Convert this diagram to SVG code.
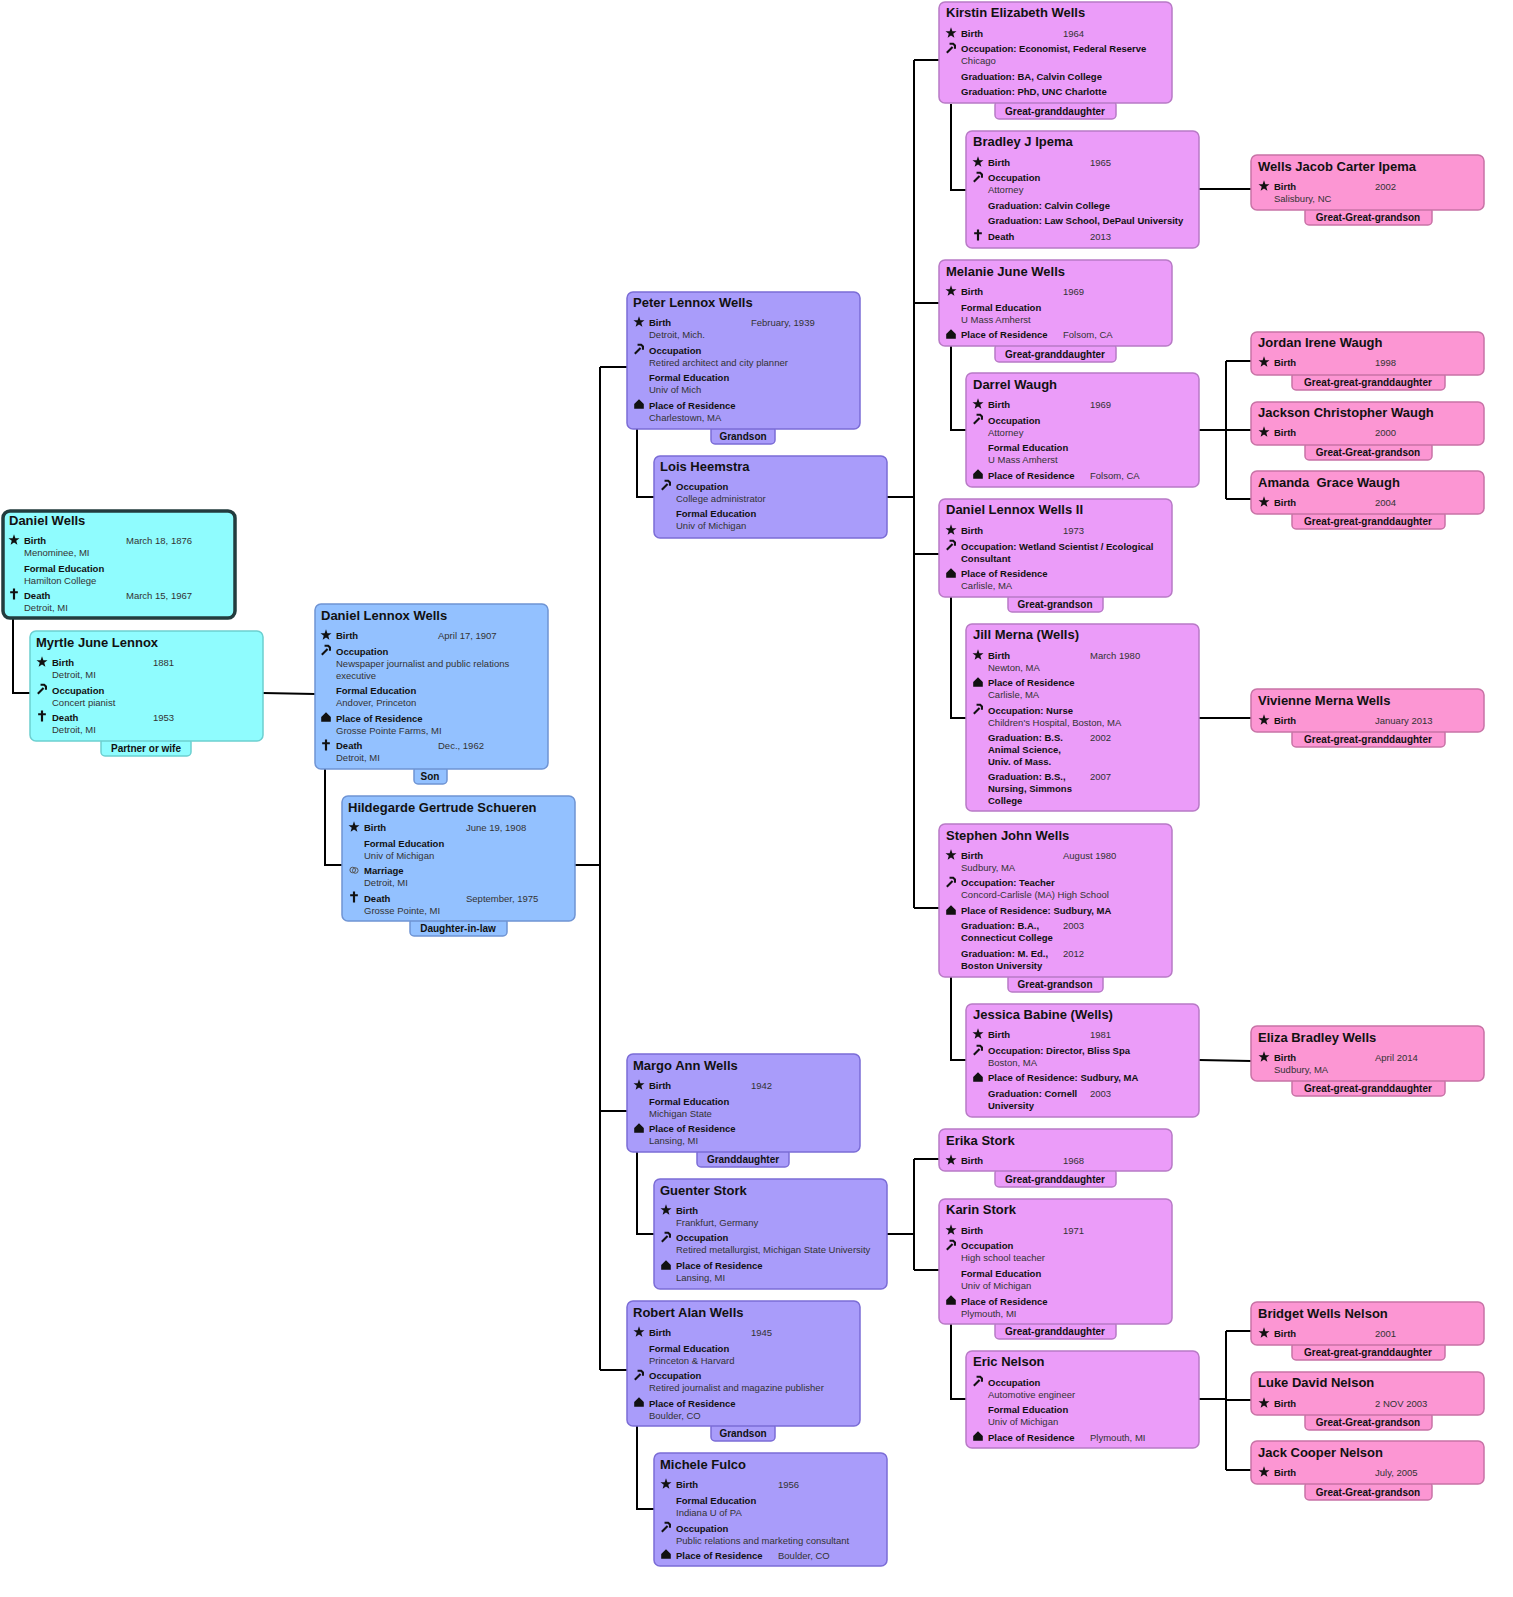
<svg xmlns="http://www.w3.org/2000/svg" xmlns:xlink="http://www.w3.org/1999/xlink" width="1513" height="1597" viewBox="0 0 1513 1597">
<style>
text{font-family:"Liberation Sans",Arial,sans-serif;fill:#111}
.t{font-size:13px;font-weight:bold}
.l{font-size:9.5px;font-weight:bold}
.v{font-size:9.5px;fill:#333}
.g{font-size:10px;font-weight:bold;text-anchor:middle}
.c{fill:#8ffcfe;stroke:#6ccfd0;stroke-width:1.5}
.b{fill:#93c1ff;stroke:#6f94d4;stroke-width:1.5}
.p{fill:#a99cfa;stroke:#7b6cd6;stroke-width:1.5}
.m{fill:#eb9cf9;stroke:#b87ac6;stroke-width:1.5}
.k{fill:#fc96d3;stroke:#c873a6;stroke-width:1.5}
#links path{fill:none;stroke:#000;stroke-width:2}
</style>
<defs>
<polygon id="star" transform="scale(1.25)" points="0,-4.6 1.1,-1.5 4.4,-1.4 1.8,0.6 2.7,3.8 0,1.9 -2.7,3.8 -1.8,0.6 -4.4,-1.4 -1.1,-1.5" fill="#111"/>
<path id="cross" transform="scale(1.2)" d="M-0.9,-4.5h1.8v2.2h2.3v1.7h-2.3v5.1h-1.8v-5.1h-2.3v-1.7h2.3z" fill="#111"/>
<path id="ham" transform="scale(1.2)" d="M-3.5,4 L1.3,-0.8 M-1.2,-3.6 L1.8,-3.6 L3.3,-2.1 L3.3,0.6" fill="none" stroke="#111" stroke-width="1.7"/>
<path id="house" transform="scale(1.2)" d="M-4,0 L0,-4 L4,0 V4 H-4 Z M-1,4 V1.5 H1 V4" fill="#111"/>
<g id="ring" fill="none" stroke="#555" stroke-width="1"><circle cx="-1.3" cy="0" r="2.8"/><circle cx="1.3" cy="0.5" r="2.8"/></g>
</defs>

<g id="links">
<path d="M13,618V693H30"/>
<path d="M263,693L315,694"/>
<path d="M325,769V865H342"/>
<path d="M575,865H600M600,367V1370M600,367H627M600,1111H627M600,1370H627"/>
<path d="M637,429V497H654"/>
<path d="M887,497H914M914,60V908M914,60H939M914,303H939M914,554H939M914,908H939"/>
<path d="M951,104V190H966"/>
<path d="M1199,189H1251"/>
<path d="M951,346V430H966"/>
<path d="M1199,430H1226M1226,361V499M1226,361H1251M1226,430H1251M1226,499H1251"/>
<path d="M951,597V718H966"/>
<path d="M1199,718H1251"/>
<path d="M951,977V1060H966"/>
<path d="M1199,1060L1251,1061"/>
<path d="M637,1152V1234H654"/>
<path d="M887,1234H914M914,1159V1270M914,1159H939M914,1270H939"/>
<path d="M951,1324V1399H966"/>
<path d="M1199,1399H1226M1226,1331V1470M1226,1331H1251M1226,1400H1251M1226,1470H1251"/>
<path d="M637,1426V1509H654"/>
</g>

<g id="n1">
<rect x="3" y="511" width="232" height="107" rx="7" fill="#8ffcfe" stroke="#233c3e" stroke-width="3.5"/>
<text class="t" x="9" y="525">Daniel Wells</text>
<use href="#star" x="14" y="540"/><text class="l" x="24" y="544">Birth</text><text class="v" x="126" y="544">March 18, 1876</text>
<text class="v" x="24" y="556">Menominee, MI</text>
<text class="l" x="24" y="572">Formal Education</text><text class="v" x="24" y="584">Hamilton College</text>
<use href="#cross" x="14" y="594"/><text class="l" x="24" y="599">Death</text><text class="v" x="126" y="599">March 15, 1967</text>
<text class="v" x="24" y="611">Detroit, MI</text>
</g>

<g id="n2">
<rect class="c" x="101" y="738" width="90" height="18" rx="4"/><text class="g" x="146" y="752">Partner or wife</text>
<rect class="c" x="30" y="631" width="233" height="110" rx="6"/>
<text class="t" x="36" y="647">Myrtle June Lennox</text>
<use href="#star" x="42" y="662"/><text class="l" x="52" y="666">Birth</text><text class="v" x="153" y="666">1881</text>
<text class="v" x="52" y="678">Detroit, MI</text>
<use href="#ham" x="42" y="689"/><text class="l" x="52" y="694">Occupation</text><text class="v" x="52" y="706">Concert pianist</text>
<use href="#cross" x="42" y="716"/><text class="l" x="52" y="721">Death</text><text class="v" x="153" y="721">1953</text>
<text class="v" x="52" y="733">Detroit, MI</text>
</g>

<g id="n3">
<rect class="b" x="414" y="766" width="33" height="18" rx="4"/><text class="g" x="430" y="780">Son</text>
<rect class="b" x="315" y="604" width="233" height="165" rx="6"/>
<text class="t" x="321" y="620">Daniel Lennox Wells</text>
<use href="#star" x="326" y="635"/><text class="l" x="336" y="639">Birth</text><text class="v" x="438" y="639">April 17, 1907</text>
<use href="#ham" x="326" y="650"/><text class="l" x="336" y="655">Occupation</text>
<text class="v" x="336" y="667">Newspaper journalist and public relations</text><text class="v" x="336" y="679">executive</text>
<text class="l" x="336" y="694">Formal Education</text><text class="v" x="336" y="706">Andover, Princeton</text>
<use href="#house" x="326" y="717"/><text class="l" x="336" y="722">Place of Residence</text><text class="v" x="336" y="734">Grosse Pointe Farms, MI</text>
<use href="#cross" x="326" y="745"/><text class="l" x="336" y="749">Death</text><text class="v" x="438" y="749">Dec., 1962</text>
<text class="v" x="336" y="761">Detroit, MI</text>
</g>

<g id="n4">
<rect class="b" x="410" y="918" width="97" height="18" rx="4"/><text class="g" x="458" y="932">Daughter-in-law</text>
<rect class="b" x="342" y="796" width="233" height="125" rx="6"/>
<text class="t" x="348" y="812">Hildegarde Gertrude Schueren</text>
<use href="#star" x="354" y="827"/><text class="l" x="364" y="831">Birth</text><text class="v" x="466" y="831">June 19, 1908</text>
<text class="l" x="364" y="847">Formal Education</text><text class="v" x="364" y="859">Univ of Michigan</text>
<use href="#ring" x="354" y="870"/><text class="l" x="364" y="874">Marriage</text><text class="v" x="364" y="886">Detroit, MI</text>
<use href="#cross" x="354" y="897"/><text class="l" x="364" y="902">Death</text><text class="v" x="466" y="902">September, 1975</text>
<text class="v" x="364" y="914">Grosse Pointe, MI</text>
</g>

<g id="n5">
<rect class="p" x="711" y="426" width="64" height="18" rx="4"/><text class="g" x="743" y="440">Grandson</text>
<rect class="p" x="627" y="292" width="233" height="137" rx="6"/>
<text class="t" x="633" y="307">Peter Lennox Wells</text>
<use href="#star" x="639" y="322"/><text class="l" x="649" y="326">Birth</text><text class="v" x="751" y="326">February, 1939</text>
<text class="v" x="649" y="338">Detroit, Mich.</text>
<use href="#ham" x="639" y="349"/><text class="l" x="649" y="354">Occupation</text><text class="v" x="649" y="366">Retired architect and city planner</text>
<text class="l" x="649" y="381">Formal Education</text><text class="v" x="649" y="393">Univ of Mich</text>
<use href="#house" x="639" y="404"/><text class="l" x="649" y="409">Place of Residence</text><text class="v" x="649" y="421">Charlestown, MA</text>
</g>

<g id="n6">
<rect class="p" x="654" y="456" width="233" height="82" rx="6"/>
<text class="t" x="660" y="471">Lois Heemstra</text>
<use href="#ham" x="666" y="485"/><text class="l" x="676" y="490">Occupation</text><text class="v" x="676" y="502">College administrator</text>
<text class="l" x="676" y="517">Formal Education</text><text class="v" x="676" y="529">Univ of Michigan</text>
</g>

<g id="n7">
<rect class="p" x="697" y="1149" width="92" height="18" rx="4"/><text class="g" x="743" y="1163">Granddaughter</text>
<rect class="p" x="627" y="1054" width="233" height="98" rx="6"/>
<text class="t" x="633" y="1070">Margo Ann Wells</text>
<use href="#star" x="639" y="1085"/><text class="l" x="649" y="1089">Birth</text><text class="v" x="751" y="1089">1942</text>
<text class="l" x="649" y="1105">Formal Education</text><text class="v" x="649" y="1117">Michigan State</text>
<use href="#house" x="639" y="1128"/><text class="l" x="649" y="1132">Place of Residence</text><text class="v" x="649" y="1144">Lansing, MI</text>
</g>

<g id="n8">
<rect class="p" x="654" y="1179" width="233" height="110" rx="6"/>
<text class="t" x="660" y="1195">Guenter Stork</text>
<use href="#star" x="666" y="1210"/><text class="l" x="676" y="1214">Birth</text><text class="v" x="676" y="1226">Frankfurt, Germany</text>
<use href="#ham" x="666" y="1237"/><text class="l" x="676" y="1241">Occupation</text><text class="v" x="676" y="1253">Retired metallurgist, Michigan State University</text>
<use href="#house" x="666" y="1265"/><text class="l" x="676" y="1269">Place of Residence</text><text class="v" x="676" y="1281">Lansing, MI</text>
</g>

<g id="n9">
<rect class="p" x="711" y="1423" width="64" height="18" rx="4"/><text class="g" x="743" y="1437">Grandson</text>
<rect class="p" x="627" y="1301" width="233" height="125" rx="6"/>
<text class="t" x="633" y="1317">Robert Alan Wells</text>
<use href="#star" x="639" y="1332"/><text class="l" x="649" y="1336">Birth</text><text class="v" x="751" y="1336">1945</text>
<text class="l" x="649" y="1352">Formal Education</text><text class="v" x="649" y="1364">Princeton &amp; Harvard</text>
<use href="#ham" x="639" y="1375"/><text class="l" x="649" y="1379">Occupation</text><text class="v" x="649" y="1391">Retired journalist and magazine publisher</text>
<use href="#house" x="639" y="1402"/><text class="l" x="649" y="1407">Place of Residence</text><text class="v" x="649" y="1419">Boulder, CO</text>
</g>

<g id="n10">
<rect class="p" x="654" y="1453" width="233" height="113" rx="6"/>
<text class="t" x="660" y="1469">Michele Fulco</text>
<use href="#star" x="666" y="1484"/><text class="l" x="676" y="1488">Birth</text><text class="v" x="778" y="1488">1956</text>
<text class="l" x="676" y="1504">Formal Education</text><text class="v" x="676" y="1516">Indiana U of PA</text>
<use href="#ham" x="666" y="1527"/><text class="l" x="676" y="1532">Occupation</text><text class="v" x="676" y="1544">Public relations and marketing consultant</text>
<use href="#house" x="666" y="1554"/><text class="l" x="676" y="1559">Place of Residence</text><text class="v" x="778" y="1559">Boulder, CO</text>
</g>

<g id="n11">
<rect class="m" x="995" y="101" width="121" height="18" rx="4"/><text class="g" x="1055" y="115">Great-granddaughter</text>
<rect class="m" x="939" y="2" width="233" height="101" rx="6"/>
<text class="t" x="946" y="17">Kirstin Elizabeth Wells</text>
<use href="#star" x="951" y="33"/><text class="l" x="961" y="37">Birth</text><text class="v" x="1063" y="37">1964</text>
<use href="#ham" x="951" y="48"/><text class="l" x="961" y="52">Occupation: Economist, Federal Reserve</text><text class="v" x="961" y="64">Chicago</text>
<text class="l" x="961" y="80">Graduation: BA, Calvin College</text>
<text class="l" x="961" y="95">Graduation: PhD, UNC Charlotte</text>
</g>

<g id="n12">
<rect class="m" x="966" y="131" width="233" height="117" rx="6"/>
<text class="t" x="973" y="146">Bradley J Ipema</text>
<use href="#star" x="978" y="162"/><text class="l" x="988" y="166">Birth</text><text class="v" x="1090" y="166">1965</text>
<use href="#ham" x="978" y="177"/><text class="l" x="988" y="181">Occupation</text><text class="v" x="988" y="193">Attorney</text>
<text class="l" x="988" y="209">Graduation: Calvin College</text>
<text class="l" x="988" y="224">Graduation: Law School, DePaul University</text>
<use href="#cross" x="978" y="235"/><text class="l" x="988" y="240">Death</text><text class="v" x="1090" y="240">2013</text>
</g>

<g id="n13">
<rect class="m" x="995" y="344" width="121" height="18" rx="4"/><text class="g" x="1055" y="358">Great-granddaughter</text>
<rect class="m" x="939" y="260" width="233" height="86" rx="6"/>
<text class="t" x="946" y="276">Melanie June Wells</text>
<use href="#star" x="951" y="291"/><text class="l" x="961" y="295">Birth</text><text class="v" x="1063" y="295">1969</text>
<text class="l" x="961" y="311">Formal Education</text><text class="v" x="961" y="323">U Mass Amherst</text>
<use href="#house" x="951" y="334"/><text class="l" x="961" y="338">Place of Residence</text><text class="v" x="1063" y="338">Folsom, CA</text>
</g>

<g id="n14">
<rect class="m" x="966" y="373" width="233" height="114" rx="6"/>
<text class="t" x="973" y="389">Darrel Waugh</text>
<use href="#star" x="978" y="404"/><text class="l" x="988" y="408">Birth</text><text class="v" x="1090" y="408">1969</text>
<use href="#ham" x="978" y="419"/><text class="l" x="988" y="424">Occupation</text><text class="v" x="988" y="436">Attorney</text>
<text class="l" x="988" y="451">Formal Education</text><text class="v" x="988" y="463">U Mass Amherst</text>
<use href="#house" x="978" y="474"/><text class="l" x="988" y="479">Place of Residence</text><text class="v" x="1090" y="479">Folsom, CA</text>
</g>

<g id="n15">
<rect class="m" x="1008" y="594" width="95" height="18" rx="4"/><text class="g" x="1055" y="608">Great-grandson</text>
<rect class="m" x="939" y="499" width="233" height="98" rx="6"/>
<text class="t" x="946" y="514">Daniel Lennox Wells II</text>
<use href="#star" x="951" y="530"/><text class="l" x="961" y="534">Birth</text><text class="v" x="1063" y="534">1973</text>
<use href="#ham" x="951" y="545"/><text class="l" x="961" y="550">Occupation: Wetland Scientist / Ecological</text><text class="l" x="961" y="562">Consultant</text>
<use href="#house" x="951" y="573"/><text class="l" x="961" y="577">Place of Residence</text><text class="v" x="961" y="589">Carlisle, MA</text>
</g>

<g id="n16">
<rect class="m" x="966" y="624" width="233" height="187" rx="6"/>
<text class="t" x="973" y="639">Jill Merna (Wells)</text>
<use href="#star" x="978" y="655"/><text class="l" x="988" y="659">Birth</text><text class="v" x="1090" y="659">March 1980</text>
<text class="v" x="988" y="671">Newton, MA</text>
<use href="#house" x="978" y="682"/><text class="l" x="988" y="686">Place of Residence</text><text class="v" x="988" y="698">Carlisle, MA</text>
<use href="#ham" x="978" y="709"/><text class="l" x="988" y="714">Occupation: Nurse</text><text class="v" x="988" y="726">Children's Hospital, Boston, MA</text>
<text class="l" x="988" y="741">Graduation: B.S.</text><text class="v" x="1090" y="741">2002</text>
<text class="l" x="988" y="753">Animal Science,</text><text class="l" x="988" y="765">Univ. of Mass.</text>
<text class="l" x="988" y="780">Graduation: B.S.,</text><text class="v" x="1090" y="780">2007</text>
<text class="l" x="988" y="792">Nursing, Simmons</text><text class="l" x="988" y="804">College</text>
</g>

<g id="n17">
<rect class="m" x="1008" y="974" width="95" height="18" rx="4"/><text class="g" x="1055" y="988">Great-grandson</text>
<rect class="m" x="939" y="824" width="233" height="153" rx="6"/>
<text class="t" x="946" y="840">Stephen John Wells</text>
<use href="#star" x="951" y="855"/><text class="l" x="961" y="859">Birth</text><text class="v" x="1063" y="859">August 1980</text>
<text class="v" x="961" y="871">Sudbury, MA</text>
<use href="#ham" x="951" y="882"/><text class="l" x="961" y="886">Occupation: Teacher</text><text class="v" x="961" y="898">Concord-Carlisle (MA) High School</text>
<use href="#house" x="951" y="910"/><text class="l" x="961" y="914">Place of Residence: Sudbury, MA</text>
<text class="l" x="961" y="929">Graduation: B.A.,</text><text class="v" x="1063" y="929">2003</text>
<text class="l" x="961" y="941">Connecticut College</text>
<text class="l" x="961" y="957">Graduation: M. Ed.,</text><text class="v" x="1063" y="957">2012</text>
<text class="l" x="961" y="969">Boston University</text>
</g>

<g id="n18">
<rect class="m" x="966" y="1004" width="233" height="113" rx="6"/>
<text class="t" x="973" y="1019">Jessica Babine (Wells)</text>
<use href="#star" x="978" y="1034"/><text class="l" x="988" y="1038">Birth</text><text class="v" x="1090" y="1038">1981</text>
<use href="#ham" x="978" y="1050"/><text class="l" x="988" y="1054">Occupation: Director, Bliss Spa</text><text class="v" x="988" y="1066">Boston, MA</text>
<use href="#house" x="978" y="1077"/><text class="l" x="988" y="1081">Place of Residence: Sudbury, MA</text>
<text class="l" x="988" y="1097">Graduation: Cornell</text><text class="v" x="1090" y="1097">2003</text>
<text class="l" x="988" y="1109">University</text>
</g>

<g id="n19">
<rect class="m" x="995" y="1169" width="121" height="18" rx="4"/><text class="g" x="1055" y="1183">Great-granddaughter</text>
<rect class="m" x="939" y="1129" width="233" height="42" rx="6"/>
<text class="t" x="946" y="1145">Erika Stork</text>
<use href="#star" x="951" y="1160"/><text class="l" x="961" y="1164">Birth</text><text class="v" x="1063" y="1164">1968</text>
</g>

<g id="n20">
<rect class="m" x="995" y="1321" width="121" height="18" rx="4"/><text class="g" x="1055" y="1335">Great-granddaughter</text>
<rect class="m" x="939" y="1199" width="233" height="125" rx="6"/>
<text class="t" x="946" y="1214">Karin Stork</text>
<use href="#star" x="951" y="1230"/><text class="l" x="961" y="1234">Birth</text><text class="v" x="1063" y="1234">1971</text>
<use href="#ham" x="951" y="1245"/><text class="l" x="961" y="1249">Occupation</text><text class="v" x="961" y="1261">High school teacher</text>
<text class="l" x="961" y="1277">Formal Education</text><text class="v" x="961" y="1289">Univ of Michigan</text>
<use href="#house" x="951" y="1300"/><text class="l" x="961" y="1305">Place of Residence</text><text class="v" x="961" y="1317">Plymouth, MI</text>
</g>

<g id="n21">
<rect class="m" x="966" y="1351" width="233" height="97" rx="6"/>
<text class="t" x="973" y="1366">Eric Nelson</text>
<use href="#ham" x="978" y="1381"/><text class="l" x="988" y="1386">Occupation</text><text class="v" x="988" y="1398">Automotive engineer</text>
<text class="l" x="988" y="1413">Formal Education</text><text class="v" x="988" y="1425">Univ of Michigan</text>
<use href="#house" x="978" y="1436"/><text class="l" x="988" y="1441">Place of Residence</text><text class="v" x="1090" y="1441">Plymouth, MI</text>
</g>

<g id="n22">
<rect class="k" x="1305" y="207" width="127" height="18" rx="4"/><text class="g" x="1368" y="221">Great-Great-grandson</text>
<rect class="k" x="1251" y="155" width="233" height="55" rx="6"/>
<text class="t" x="1258" y="171">Wells Jacob Carter Ipema</text>
<use href="#star" x="1264" y="186"/><text class="l" x="1274" y="190">Birth</text><text class="v" x="1375" y="190">2002</text>
<text class="v" x="1274" y="202">Salisbury, NC</text>
</g>

<g id="n23">
<rect class="k" x="1292" y="372" width="153" height="18" rx="4"/><text class="g" x="1368" y="386">Great-great-granddaughter</text>
<rect class="k" x="1251" y="332" width="233" height="43" rx="6"/>
<text class="t" x="1258" y="347">Jordan Irene Waugh</text>
<use href="#star" x="1264" y="362"/><text class="l" x="1274" y="366">Birth</text><text class="v" x="1375" y="366">1998</text>
</g>

<g id="n24">
<rect class="k" x="1305" y="442" width="127" height="18" rx="4"/><text class="g" x="1368" y="456">Great-Great-grandson</text>
<rect class="k" x="1251" y="402" width="233" height="43" rx="6"/>
<text class="t" x="1258" y="417">Jackson Christopher Waugh</text>
<use href="#star" x="1264" y="432"/><text class="l" x="1274" y="436">Birth</text><text class="v" x="1375" y="436">2000</text>
</g>

<g id="n25">
<rect class="k" x="1292" y="511" width="153" height="18" rx="4"/><text class="g" x="1368" y="525">Great-great-granddaughter</text>
<rect class="k" x="1251" y="471" width="233" height="43" rx="6"/>
<text class="t" x="1258" y="487" xml:space="preserve">Amanda  Grace Waugh</text>
<use href="#star" x="1264" y="502"/><text class="l" x="1274" y="506">Birth</text><text class="v" x="1375" y="506">2004</text>
</g>

<g id="n26">
<rect class="k" x="1292" y="729" width="153" height="18" rx="4"/><text class="g" x="1368" y="743">Great-great-granddaughter</text>
<rect class="k" x="1251" y="689" width="233" height="43" rx="6"/>
<text class="t" x="1258" y="705">Vivienne Merna Wells</text>
<use href="#star" x="1264" y="720"/><text class="l" x="1274" y="724">Birth</text><text class="v" x="1375" y="724">January 2013</text>
</g>

<g id="n27">
<rect class="k" x="1292" y="1078" width="153" height="18" rx="4"/><text class="g" x="1368" y="1092">Great-great-granddaughter</text>
<rect class="k" x="1251" y="1026" width="233" height="55" rx="6"/>
<text class="t" x="1258" y="1042">Eliza Bradley Wells</text>
<use href="#star" x="1264" y="1057"/><text class="l" x="1274" y="1061">Birth</text><text class="v" x="1375" y="1061">April 2014</text>
<text class="v" x="1274" y="1073">Sudbury, MA</text>
</g>

<g id="n28">
<rect class="k" x="1292" y="1342" width="153" height="18" rx="4"/><text class="g" x="1368" y="1356">Great-great-granddaughter</text>
<rect class="k" x="1251" y="1302" width="233" height="43" rx="6"/>
<text class="t" x="1258" y="1318">Bridget Wells Nelson</text>
<use href="#star" x="1264" y="1333"/><text class="l" x="1274" y="1337">Birth</text><text class="v" x="1375" y="1337">2001</text>
</g>

<g id="n29">
<rect class="k" x="1305" y="1412" width="127" height="18" rx="4"/><text class="g" x="1368" y="1426">Great-Great-grandson</text>
<rect class="k" x="1251" y="1372" width="233" height="43" rx="6"/>
<text class="t" x="1258" y="1387">Luke David Nelson</text>
<use href="#star" x="1264" y="1403"/><text class="l" x="1274" y="1407">Birth</text><text class="v" x="1375" y="1407">2 NOV 2003</text>
</g>

<g id="n30">
<rect class="k" x="1305" y="1482" width="127" height="18" rx="4"/><text class="g" x="1368" y="1496">Great-Great-grandson</text>
<rect class="k" x="1251" y="1441" width="233" height="43" rx="6"/>
<text class="t" x="1258" y="1457">Jack Cooper Nelson</text>
<use href="#star" x="1264" y="1472"/><text class="l" x="1274" y="1476">Birth</text><text class="v" x="1375" y="1476">July, 2005</text>
</g>
</svg>
